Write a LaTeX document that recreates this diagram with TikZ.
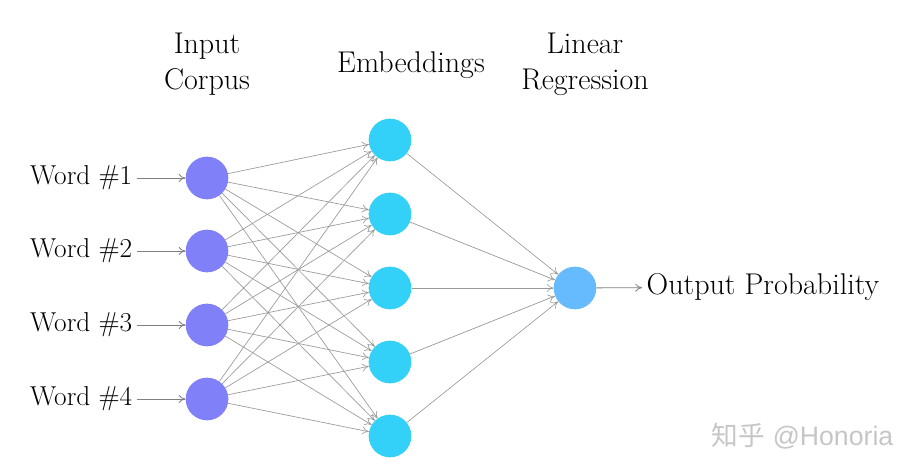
\documentclass[tikz,border=0pt]{standalone}
\usepackage{fontspec}
\newfontfamily\cjk{Noto Sans CJK SC}
\newfontfamily\sans{Liberation Sans}
\usetikzlibrary{arrows.meta}
\definecolor{inc}{HTML}{8080F8}
\definecolor{emb}{HTML}{33D0F8}
\definecolor{outc}{HTML}{66BBFF}
\begin{document}
\begin{tikzpicture}[x=0.75pt,y=-0.75pt,
  neuron/.style={circle,minimum size=32pt,inner sep=0pt},
  lbl/.style={font=\fontsize{22.5}{27}\selectfont,align=center},
  wlbl/.style={font=\fontsize{20.5}{24}\selectfont},
  conn/.style={draw=gray!80,line width=0.5pt,-{To[length=5pt,width=6pt]}},
  feed/.style={draw=gray,line width=0.6pt,-{To[length=5pt,width=6pt]}}]
\useasboundingbox (0,0) rectangle (917,473);
\foreach \i/\y in {1/178,2/251,3/325,4/399}{
  \node[neuron,fill=inc] (i\i) at (207,\y) {};
  \node[wlbl,anchor=east] (w\i) at (137,\y) {Word \#\i};
  \draw[feed] (w\i) -- (i\i);
}
\foreach \j/\y in {1/140,2/214,3/288,4/362,5/436}{
  \node[neuron,fill=emb] (e\j) at (390,\y) {};
}
\node[neuron,fill=outc] (o) at (575,288) {};
\node[lbl,anchor=west] (ol) at (642,287) {Output Probability};
\draw[feed] (o) -- (ol);
\foreach \i in {1,...,4}{\foreach \j in {1,...,5}{\draw[conn] (i\i) -- (e\j);}}
\foreach \j in {1,...,5}{\draw[conn] (e\j) -- (o);}
\node[lbl] (t1) at (207,64) {Input\\Corpus};
\node[lbl] (t2) at (411,65) {Embeddings};
\node[lbl] (t3) at (585,64) {Linear\\Regression};
\node[anchor=east,text=gray!45,font=\fontsize{20}{24}\selectfont] (wm) at (898,436) {{\cjk 知乎} {\sans @Honoria}};
\end{tikzpicture}
\end{document}
